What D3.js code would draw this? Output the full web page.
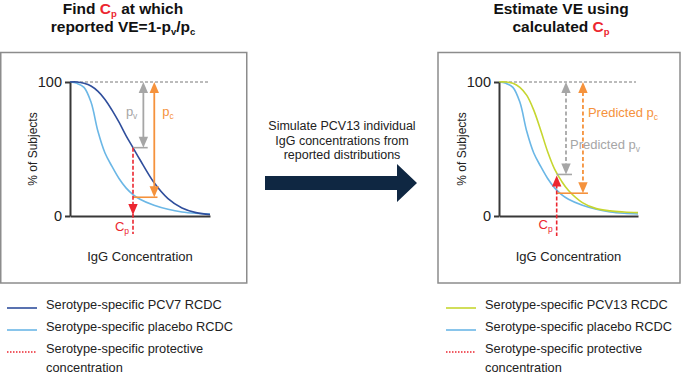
<!DOCTYPE html>
<html>
<head>
<meta charset="utf-8">
<script src="https://cdn.jsdelivr.net/npm/d3@7"></script>
<style>
  body { margin: 0; background: #fff; }
  svg { font-family: "Liberation Sans", Arial, sans-serif; }
</style>
</head>
<body>
<div id="chart"></div>
<script>
// reverse cumulative distribution curves (% of subjects above a concentration)
const conc    = [0, 0.5, 1, 1.5, 2, 2.5, 3, 3.5, 4, 4.5, 5, 6, 7, 8, 9, 10]
const pcv7    = [100, 100, 99, 97, 93, 87, 79, 70, 60, 51, 42, 25, 13, 6, 2.5, 1]
const placebo = [100, 99, 96, 85, 63, 47, 37, 28, 21, 16, 12.5, 8, 5, 3, 2, 1.5]
const pcv13   = [100, 100, 99, 96, 90, 79, 64, 48, 35, 26, 19, 10, 5.5, 3.8, 3, 2.5]

// protective concentration and the proportions read at it
const cpFound = 4.5, cpUsed = 4.15
const pvReported = 51, pcReported = 14
const pvPredicted = 31, pcPredicted = 17

const yTicks = [0, 100]
const legendLeft  = ["Serotype-specific PCV7 RCDC", "Serotype-specific placebo RCDC", "Serotype-specific protective", "concentration"]
const legendRight = ["Serotype-specific PCV13 RCDC", "Serotype-specific placebo RCDC", "Serotype-specific protective", "concentration"]
const middleText  = ["Simulate PCV13 individual", "IgG concentrations from", "reported distributions"]

const col = {
  dark: "#2f4e9c", light: "#6bb7e6", green: "#c6d630", gray: "#a6a6a6",
  orange: "#f5923c", red: "#ec2630", axis: "#383838", box: "#8c8c8c", navy: "#0f2742"
}

const W = 685, H = 377
const svg = d3.select("#chart").append("svg")
  .attr("width", W).attr("height", H)

// panel frames
svg.append("rect").attr("x", 0.75).attr("y", 52.5).attr("width", 246).attr("height", 230.5)
  .attr("fill", "none").attr("stroke", col.box).attr("stroke-width", 1.5)
svg.append("rect").attr("x", 438).attr("y", 52.5).attr("width", 242).attr("height", 230.5)
  .attr("fill", "none").attr("stroke", col.box).attr("stroke-width", 1.5)

function title(cx, parts1, parts2) {
  [[parts1, 14], [parts2, 32]].forEach(([parts, yy]) => {
    const t = svg.append("text").attr("x", cx).attr("y", yy)
      .attr("text-anchor", "middle").attr("font-weight", "bold").attr("font-size", 15.5).attr("fill", "#111")
    parts.forEach(p => {
      const s = t.append("tspan").text(p.t)
      if (p.c) s.attr("fill", p.c)
      if (p.sub) s.attr("font-size", 9.5).attr("dy", 3)
      if (p.up) s.attr("dy", -3)
    })
  })
}
title(123, [{t: "Find "}, {t: "C", c: col.red}, {t: "p", c: col.red, sub: 1}, {t: " at which", up: 1}],
  [{t: "reported VE=1-p"}, {t: "v", sub: 1}, {t: "/p", up: 1}, {t: "c", sub: 1}])
title(561, [{t: "Estimate VE using"}],
  [{t: "calculated "}, {t: "C", c: col.red}, {t: "p", c: col.red, sub: 1}])

function arrowHead(g, x, yTip, dir, color) {
  // dir = 1 points down, -1 points up
  g.append("path")
    .attr("d", `M${x},${yTip}L${x - 4.7},${yTip - dir * 11}L${x + 4.7},${yTip - dir * 11}Z`)
    .attr("fill", color)
}

function vArrow(g, x, yTop, yBot, color, dash) {
  g.append("line").attr("x1", x).attr("x2", x).attr("y1", yTop + 10).attr("y2", yBot - 10)
    .attr("stroke", color).attr("stroke-width", 1.8).attr("stroke-dasharray", dash ? "4,2.5" : null)
  arrowHead(g, x, yTop, -1, color)
  arrowHead(g, x, yBot, 1, color)
}

function label(g, x, y, main, sub, color, anchor) {
  const t = g.append("text").attr("x", x).attr("y", y).attr("fill", color)
    .attr("font-size", 13).attr("text-anchor", anchor || "start")
  t.append("tspan").text(main)
  t.append("tspan").attr("font-size", 8.5).attr("dy", 3).text(sub)
  return t
}

function panel(x0, x1, curves) {
  const x = d3.scaleLinear().domain([0, 10]).range([x0, x1])
  const y = d3.scaleLinear().domain([0, 100]).range([216, 82])
  const g = svg.append("g")

  g.append("line").attr("x1", x(0)).attr("x2", x(10) - 2).attr("y1", y(100)).attr("y2", y(100))
    .attr("stroke", "#555").attr("stroke-width", 0.8).attr("stroke-dasharray", "3,2")

  const line = d3.line().x((d, i) => x(conc[i])).y(d => y(d)).curve(d3.curveCatmullRom.alpha(0.5))
  curves.forEach(c => {
    g.append("path").attr("d", line(c.values)).attr("fill", "none")
      .attr("stroke", c.color).attr("stroke-width", 1.6)
  })

  const ay = g.append("g").attr("transform", `translate(${x0},0)`)
    .call(d3.axisLeft(y).tickValues(yTicks).tickSize(5).tickSizeOuter(0).tickPadding(3))
  const ax = g.append("g").attr("transform", `translate(0,${y(0)})`)
    .call(d3.axisBottom(x).tickValues([]).tickSizeOuter(0))
  ;[ay, ax].forEach(a => {
    a.selectAll("path,line").attr("stroke", col.axis).attr("stroke-width", 2)
    a.selectAll("text").attr("font-size", 14.5).attr("fill", "#222").attr("font-family", null)
  })

  g.append("text").attr("transform", `translate(${x0 - 37},${(y(0) + y(100)) / 2}) rotate(-90)`)
    .attr("text-anchor", "middle").attr("dy", "0.35em").attr("font-size", 12).attr("fill", "#222")
    .text("% of Subjects")
  g.append("text").attr("x", (x0 + x1) / 2).attr("y", 261).attr("text-anchor", "middle")
    .attr("font-size", 13).attr("fill", "#222").text("IgG Concentration")

  return {g, x, y}
}

// left panel: find Cp
{
  const {g, x, y} = panel(70, 210, [
    {values: placebo, color: col.light},
    {values: pcv7, color: col.dark}
  ])
  g.append("line").attr("x1", x(cpFound)).attr("x2", x(5.55)).attr("y1", y(pvReported)).attr("y2", y(pvReported))
    .attr("stroke", col.gray).attr("stroke-width", 1.6)
  g.append("line").attr("x1", x(cpFound)).attr("x2", x(6.25)).attr("y1", y(pcReported)).attr("y2", y(pcReported))
    .attr("stroke", col.orange).attr("stroke-width", 1.6)
  vArrow(g, x(5.24), y(100), y(pvReported), col.gray, false)
  vArrow(g, x(6.02), y(100), y(pcReported), col.orange, false)
  label(g, x(5.24) - 6, 116, "p", "v", col.gray, "end")
  label(g, x(6.02) + 8, 116, "p", "c", col.orange)

  g.append("line").attr("x1", x(cpFound)).attr("x2", x(cpFound)).attr("y1", y(pvReported)).attr("y2", 234)
    .attr("stroke", col.red).attr("stroke-width", 1.6).attr("stroke-dasharray", "4,2")
  arrowHead(g, x(cpFound), y(0) - 1, 1, col.red)
  label(g, x(cpFound) - 4, 231, "C", "p", col.red, "end")
}

// right panel: estimate VE
{
  const {g, x, y} = panel(499, 638, [
    {values: placebo, color: col.light},
    {values: pcv13, color: col.green}
  ])
  g.append("line").attr("x1", x(cpUsed)).attr("x2", x(5.25)).attr("y1", y(pvPredicted)).attr("y2", y(pvPredicted))
    .attr("stroke", col.gray).attr("stroke-width", 1.6)
  g.append("line").attr("x1", x(cpUsed)).attr("x2", x(6.4)).attr("y1", y(pcPredicted)).attr("y2", y(pcPredicted))
    .attr("stroke", col.orange).attr("stroke-width", 1.6)
  vArrow(g, x(4.82), y(100), y(pvPredicted), col.gray, true)
  vArrow(g, x(6.04), y(100), y(pcPredicted), col.orange, true)
  label(g, x(4.82) + 4, 149, "Predicted p", "v", col.gray)
  label(g, x(6.04) + 5, 117, "Predicted p", "c", col.orange)

  g.append("line").attr("x1", x(cpUsed)).attr("x2", x(cpUsed)).attr("y1", y(pvPredicted) + 10).attr("y2", 236)
    .attr("stroke", col.red).attr("stroke-width", 1.6).attr("stroke-dasharray", "4,2")
  arrowHead(g, x(cpUsed), y(pvPredicted) + 1, -1, col.red)
  label(g, x(cpUsed) - 4, 229, "C", "p", col.red, "end")
}

// middle step
middleText.forEach((s, i) => {
  svg.append("text").attr("x", 342).attr("y", 130 + i * 14.5).attr("text-anchor", "middle")
    .attr("font-size", 12.5).attr("fill", "#222").text(s)
})
svg.append("path")
  .attr("d", "M265,176H397V164L417,183L397,202V190H265Z")
  .attr("fill", col.navy)

// legends
function legend(xLine, xText, labels, colors) {
  const rows = [304, 326, 348]
  rows.forEach((ry, i) => {
    svg.append("line").attr("x1", xLine).attr("x2", xLine + 30).attr("y1", ry + 4).attr("y2", ry + 4)
      .attr("stroke", colors[i]).attr("stroke-width", 1.6)
      .attr("stroke-dasharray", i == 2 ? "1.5,1.5" : null)
  })
  labels.forEach((s, i) => {
    svg.append("text").attr("x", xText).attr("y", (i < 3 ? rows[i] : 367) + 4.5)
      .attr("font-size", 12.8).attr("fill", "#222").text(s)
  })
}
legend(7, 46, legendLeft, [col.dark, col.light, col.red])
legend(446, 485, legendRight, [col.green, col.light, col.red])
</script>
</body>
</html>
